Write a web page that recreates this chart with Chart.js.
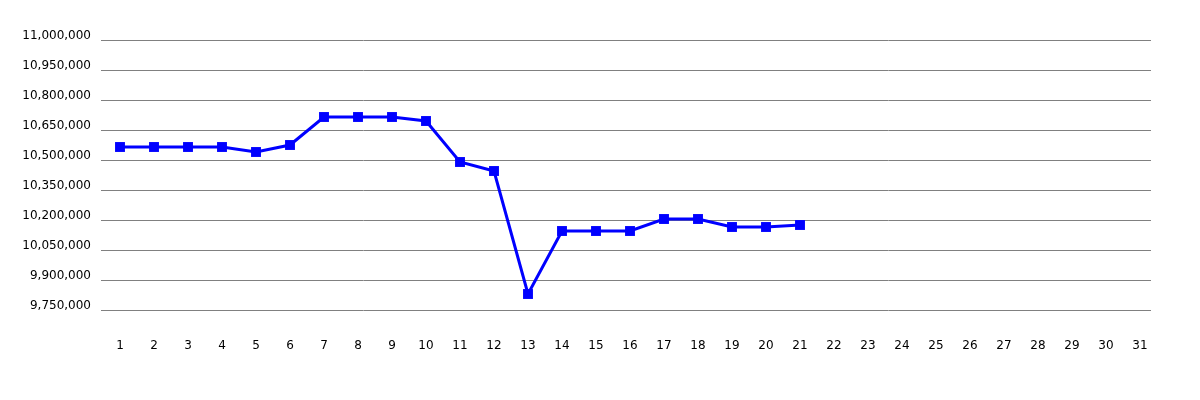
<!DOCTYPE html>
<html>
<head>
<meta charset="utf-8">
<script src="https://cdn.jsdelivr.net/npm/chart.js@4"></script>
<style>
  html, body { margin: 0; padding: 0; background: #fff; }
</style>
</head>
<body>
<canvas id="lineChart" width="1200" height="400"></canvas>
<script>
var ctx = document.getElementById('lineChart').getContext('2d');

// days of the month
let days = ['1', '2', '3', '4', '5', '6', '7', '8', '9', '10', '11', '12', '13', '14', '15', '16',
    '17', '18', '19', '20', '21', '22', '23', '24', '25', '26', '27', '28', '29', '30', '31']

// values, empty after day 21
let values = [10565000, 10565000, 10565000, 10565000, 10540000, 10575000, 10715000, 10715000,
    10715000, 10695000, 10490000, 10445000, 9830000, 10145000, 10145000, 10145000, 10205000,
    10205000, 10165000, 10165000, 10175000, null, null, null, null, null, null, null, null, null, null]

// y tick labels as printed, bottom to top
let yTickLabels = ['9,750,000', '9,900,000', '10,050,000', '10,200,000', '10,350,000',
    '10,500,000', '10,650,000', '10,800,000', '10,950,000', '11,000,000']

let blue = '#0000FF'
let gridGray = '#808080'

// day number on a linear x axis so the points sit where the original puts them
let points = days.map(function (d, i) { return { x: Number(d), y: values[i] } })

var chart = new Chart(ctx, {
    type: 'line',
    data: {
        datasets: [{
            data: points,
            borderColor: blue,
            backgroundColor: blue,
            borderWidth: 3,
            tension: 0,
            pointStyle: 'rect',
            pointRadius: 7,
            pointBorderWidth: 0,
            spanGaps: false
        }]
    },
    options: {
        responsive: false,
        animation: false,
        layout: { padding: { top: 40, right: 49, left: 0, bottom: 0 } },
        plugins: {
            legend: { display: false },
            tooltip: { enabled: false }
        },
        scales: {
            x: {
                type: 'linear',
                min: 1 - 19 / 34,
                max: 1 - 19 / 34 + 1050 / 34,
                grid: { display: false, drawTicks: false },
                border: { display: false },
                ticks: {
                    stepSize: 1,
                    includeBounds: false,
                    color: '#000',
                    padding: 29,
                    maxRotation: 0,
                    autoSkip: false,
                    font: { family: 'DejaVu Sans', size: 12 },
                    callback: function (value) { return days[value - 1] }
                },
                afterFit: function (scale) { scale.height = 90 }
            },
            y: {
                min: 9750000,
                max: 11100000,
                grid: { color: gridGray, lineWidth: 1, drawTicks: false },
                border: { display: false },
                ticks: {
                    stepSize: 150000,
                    color: '#000',
                    padding: 10,
                    labelOffset: -4,
                    font: { family: 'DejaVu Sans', size: 12 },
                    callback: function (value, index) { return yTickLabels[index] }
                },
                afterFit: function (scale) { scale.width = 101 }
            }
        }
    }
});
</script>
</body>
</html>
